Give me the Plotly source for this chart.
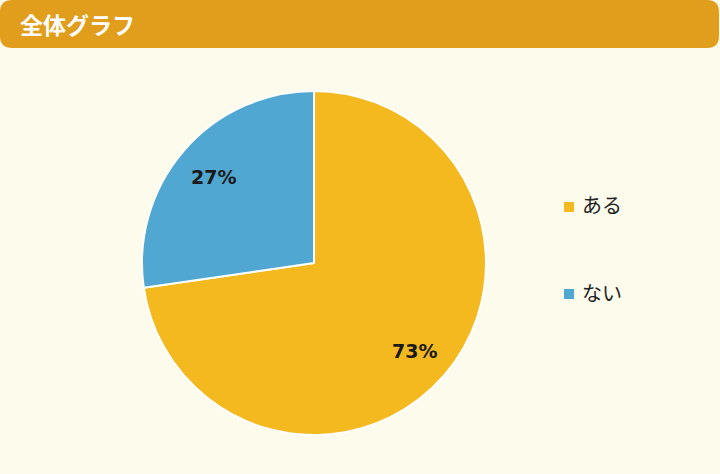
import math
import plotly.graph_objects as go

labels = ["ある", "ない"]
values = [72.7, 27.3]
colors = ["#F4B91E", "#4FA7D2"]
title_text = "全体グラフ"

W, H = 720, 474
cx, cy, r = 314, 263, 172

fig = go.Figure()
fig.add_trace(go.Pie(
    labels=labels, values=values, sort=False, direction="clockwise", rotation=0,
    marker=dict(colors=colors, line=dict(color="#FFFFFF", width=2)),
    textinfo="none", hoverinfo="label+percent", showlegend=False,
    domain=dict(x=[(cx - r) / W, (cx + r) / W], y=[(H - cy - r) / H, (H - cy + r) / H]),
))

# slice labels placed at 0.77 radius along the slice mid angle (from data)
total = sum(values)
acc = 0
annotations = []
for lab, v in zip(labels, values):
    mid = (acc + v / 2) / total * 2 * math.pi
    acc += v
    px = cx + 0.77 * r * math.sin(mid)
    py = cy - 0.77 * r * math.cos(mid)
    annotations.append(dict(
        x=px / W, y=1 - (py + 1) / H, xref="paper", yref="paper", showarrow=False,
        text=f"{round(v / total * 100)}%",
        font=dict(family="DejaVu Sans", size=19, color="#1A1A1A", weight="bold"),
        xanchor="center", yanchor="middle"))

# legend
shapes = []
leg_y = [207, 294]
for lab, col, ly in zip(labels, colors, leg_y):
    shapes.append(dict(type="rect", xref="paper", yref="paper",
                       x0=564 / W, x1=574 / W, y0=1 - (ly + 5) / H, y1=1 - (ly - 5) / H,
                       fillcolor=col, line=dict(width=0)))
    annotations.append(dict(x=580 / W, y=1 - (ly - 2) / H, xref="paper", yref="paper",
                            showarrow=False, text=lab, xanchor="left", yanchor="middle",
                            font=dict(family="Noto Sans CJK JP", size=20, color="#222222")))

# header bar with rounded corners
x0, x1, y0, y1, rad = 0, 719, 0, 48, 12
def P(x, y):
    return f"{x / W:.5f},{1 - y / H:.5f}"
path = (f"M {P(x0 + rad, y0)} L {P(x1 - rad, y0)} Q {P(x1, y0)} {P(x1, y0 + rad)} "
        f"L {P(x1, y1 - rad)} Q {P(x1, y1)} {P(x1 - rad, y1)} L {P(x0 + rad, y1)} "
        f"Q {P(x0, y1)} {P(x0, y1 - rad)} L {P(x0, y0 + rad)} Q {P(x0, y0)} {P(x0 + rad, y0)} Z")
shapes.insert(0, dict(type="path", xref="paper", yref="paper", path=path,
                      fillcolor="#E09E1C", line=dict(width=0), layer="below"))
annotations.append(dict(x=18 / W, y=1 - 24 / H, xref="paper", yref="paper", showarrow=False,
                        text=title_text, xanchor="left", yanchor="middle",
                        font=dict(family="Noto Sans CJK JP", size=23, color="#FFFFFF", weight="bold")))

fig.update_layout(
    width=W, height=H, margin=dict(l=0, r=0, t=0, b=0),
    paper_bgcolor="#FDFBEC", plot_bgcolor="#FDFBEC",
    shapes=shapes, annotations=annotations, showlegend=False,
)
fig.write_html("out.html", config={"displayModeBar": False},
               post_script="document.body.style.margin='0';document.body.style.background='#FDFBEC';")
